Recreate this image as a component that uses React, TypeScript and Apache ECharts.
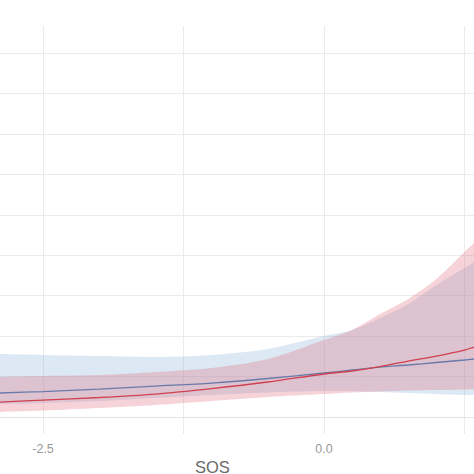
import React, { useEffect, useRef } from "react";
import * as echarts from "echarts";

const sosValues = [-2.883, -2.5, -2.0, -1.5, -1.0, -0.5, 0, 0.25, 0.5, 0.75, 1.0, 1.25, 1.335];

const blueFit = [0.297, 0.315, 0.346, 0.383, 0.42, 0.476, 0.544, 0.581, 0.618, 0.643, 0.674, 0.705, 0.717];
const blueLower = [0.161, 0.173, 0.198, 0.235, 0.272, 0.303, 0.321, 0.321, 0.309, 0.297, 0.284, 0.272, 0.272];
const blueUpper = [0.779, 0.767, 0.754, 0.742, 0.767, 0.841, 1.001, 1.076, 1.224, 1.397, 1.632, 1.842, 1.916];

const redFit = [0.185, 0.21, 0.241, 0.284, 0.352, 0.433, 0.532, 0.569, 0.624, 0.692, 0.754, 0.828, 0.865];
const redLower = [0.062, 0.08, 0.111, 0.148, 0.198, 0.247, 0.284, 0.303, 0.315, 0.328, 0.334, 0.34, 0.346];
const redUpper = [0.495, 0.507, 0.519, 0.556, 0.606, 0.717, 0.952, 1.076, 1.273, 1.459, 1.706, 2.04, 2.151];

const xGridValues = [-2.5, -1.25, 0, 1.25];
const xTickLabels = [-2.5, 0];
const yGridValues = [0, 0.5, 1, 1.5, 2, 2.5, 3, 3.5, 4, 4.5];

const X_MIN = -2.883;
const X_MAX = 1.335;
const Y_MIN = -0.21;
const Y_MAX = 4.834;

function pairs(ys: number[]) {
  return sosValues.map((x, i) => [x, ys[i]]);
}

function bandSeries(lower: number[], upper: number[], fill: string) {
  return {
    type: "custom",
    data: sosValues.map((x, i) => [x, lower[i], upper[i]]),
    encode: { x: 0, y: [1, 2] },
    clip: true,
    silent: true,
    renderItem: (params: any, api: any) => {
      if (params.dataIndex !== 0) return null;
      const up = sosValues.map((x, i) => api.coord([x, upper[i]]));
      const lo = sosValues.map((x, i) => api.coord([x, lower[i]])).reverse();
      // duplicate the corner vertices so the smoothing keeps the end edges straight
      const pts = [up[0]]
        .concat(up)
        .concat([up[up.length - 1], lo[0]])
        .concat(lo)
        .concat([lo[lo.length - 1]]);
      let minX = Infinity, minY = Infinity, maxX = -Infinity, maxY = -Infinity;
      pts.forEach((p: number[]) => {
        minX = Math.min(minX, p[0]);
        minY = Math.min(minY, p[1]);
        maxX = Math.max(maxX, p[0]);
        maxY = Math.max(maxY, p[1]);
      });
      return {
        type: "polygon",
        shape: {
          points: pts,
          smooth: 0.3,
          smoothConstraint: [
            [minX, minY],
            [maxX, maxY],
          ],
        },
        style: { fill, stroke: "none" },
      };
    },
  };
}

export default function App() {
  const ref = useRef<HTMLDivElement>(null);
  useEffect(() => {
    if (!ref.current) return;
    const chart = echarts.init(ref.current, undefined, { renderer: "svg" });
    const font = "Liberation Sans, Arial, sans-serif";
    chart.setOption({
      animation: false,
      backgroundColor: "#ffffff",
      grid: { left: 0, right: 0, top: 26, bottom: 40, containLabel: false },
      xAxis: {
        type: "value",
        min: X_MIN,
        max: X_MAX,
        axisLine: { show: true, lineStyle: { color: "#e2e2e2", width: 1.2 } },
        axisTick: { show: false, customValues: xGridValues },
        axisLabel: {
          customValues: xTickLabels,
          formatter: (v: number) => v.toFixed(1),
          color: "#9a9a9a",
          fontSize: 12.5,
          fontFamily: font,
          margin: 8,
        },
        splitLine: { show: true, lineStyle: { color: "#ebebeb", width: 1 } },
      },
      yAxis: {
        type: "value",
        min: Y_MIN,
        max: Y_MAX,
        axisLine: { show: false },
        axisTick: { show: false, customValues: yGridValues },
        axisLabel: { show: false },
        splitLine: { show: true, lineStyle: { color: "#ebebeb", width: 1 } },
      },
      graphic: [
        {
          type: "text",
          left: 195,
          top: 458,
          style: {
            text: "SOS",
            fill: "#6a6a6a",
            fontSize: 16.5,
            fontFamily: font,
          },
        },
      ],
      series: [
        bandSeries(blueLower, blueUpper, "rgba(110,160,210,0.24)"),
        {
          type: "line",
          data: pairs(blueFit),
          symbol: "none",
          smooth: 0.3,
          lineStyle: { color: "#6a7aa8", width: 1.3 },
        },
        bandSeries(redLower, redUpper, "rgba(225,110,125,0.30)"),
        {
          type: "line",
          data: pairs(redFit),
          symbol: "none",
          smooth: 0.3,
          lineStyle: { color: "#d0404f", width: 1.3 },
        },
      ],
    });
    return () => chart.dispose();
  }, []);
  return <div ref={ref} style={{ width: 474, height: 474, position: "fixed", left: 0, top: 0 }} />;
}
